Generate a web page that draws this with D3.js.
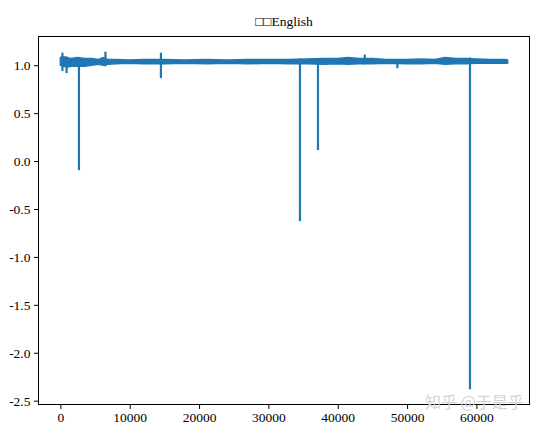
<!DOCTYPE html>
<html>
<head>
<meta charset="utf-8">
<script src="https://cdn.jsdelivr.net/npm/d3@7"></script>
<style>
  body { margin: 0; background: #fff; }
  svg text { font-family: 'Liberation Serif', 'Times New Roman', serif; }
</style>
</head>
<body>
<script>
'use strict';

// noise band: sample x, upper and lower edge
const bandX  = [0, 400, 900, 1500, 2500, 3500, 4500, 5500, 6200, 6800, 8000, 10000, 12000, 14000, 15000, 18000, 21000, 24000, 27000, 30000, 33000, 35500, 38000, 40000, 41500, 43000, 45000, 47000, 50000, 52000, 54000, 55500, 57000, 58500, 60000, 62000, 64000, 64500];
const bandHi = [1.08, 1.09, 1.08, 1.07, 1.08, 1.07, 1.07, 1.06, 1.08, 1.06, 1.06, 1.055, 1.06, 1.06, 1.06, 1.055, 1.06, 1.055, 1.06, 1.06, 1.06, 1.065, 1.07, 1.07, 1.08, 1.07, 1.07, 1.06, 1.06, 1.065, 1.06, 1.08, 1.07, 1.07, 1.065, 1.06, 1.06, 1.055];
const bandLo = [1.00, 0.99, 0.98, 0.99, 0.99, 0.99, 1.00, 1.01, 1.00, 1.01, 1.015, 1.02, 1.015, 1.015, 1.015, 1.02, 1.015, 1.02, 1.015, 1.02, 1.015, 1.015, 1.01, 1.015, 1.01, 1.015, 1.015, 1.02, 1.015, 1.015, 1.02, 1.01, 1.015, 1.015, 1.02, 1.02, 1.02, 1.02];

// single-sample spikes: position, lowest and highest value
const spikeX  = [300, 900, 2680, 6500, 14500, 34550, 37150, 43900, 48600, 59070];
const spikeLo = [0.95, 0.93, -0.083, 1.0, 0.877, -0.615, 0.126, 1.02, 0.98, -2.368];
const spikeHi = [1.12, 1.08, 1.06, 1.13, 1.12, 1.06, 1.06, 1.10, 1.05, 1.07];

const xTicks = [0, 10000, 20000, 30000, 40000, 50000, 60000];
const yTicks = [1.0, 0.5, 0.0, -0.5, -1.0, -1.5, -2.0, -2.5];

const W = 540, H = 433;
const M = { left: 38, top: 36, right: 10, bottom: 28 };
const COLOR = '#1f77b4';

let svg = d3.select('body').append('svg').attr('width', W).attr('height', H);

let xScale = d3.scaleLinear().domain([-3225, 67725]).range([M.left, W - M.right]);
let yScale = d3.scaleLinear().domain([-2.545, 1.305]).range([H - M.bottom, M.top]);

let band = bandX.map((x, i) => ({ x: x, hi: bandHi[i], lo: bandLo[i] }));

let area = d3.area()
	.x((d) => xScale(d.x))
	.y0((d) => yScale(d.lo))
	.y1((d) => yScale(d.hi));

svg.append('path')
	.datum(band)
	.attr('d', area)
	.attr('fill', COLOR)
	.attr('stroke', COLOR)
	.attr('stroke-width', 1.5)
	.attr('stroke-linejoin', 'round');

let line = d3.line().x((d) => xScale(d[0])).y((d) => yScale(d[1]));

svg.selectAll('path.spike')
	.data(spikeX.map((x, i) => [[x, spikeHi[i]], [x, spikeLo[i]]]))
	.enter()
	.append('path')
	.attr('class', 'spike')
	.attr('d', line)
	.attr('fill', 'none')
	.attr('stroke', COLOR)
	.attr('stroke-width', 2.2)
	.attr('stroke-linecap', 'square');

// frame
svg.append('rect')
	.attr('x', M.left + 0.5).attr('y', M.top + 0.5)
	.attr('width', W - M.left - M.right - 1).attr('height', H - M.top - M.bottom - 1)
	.attr('fill', 'none').attr('stroke', '#000').attr('stroke-width', 1);

let xAxis = d3.axisBottom(xScale).tickValues(xTicks).tickFormat(d3.format('d')).tickSize(4).tickPadding(3.5);
let yAxis = d3.axisLeft(yScale).tickValues(yTicks).tickFormat(d3.format('.1f')).tickSize(4).tickPadding(3.5);

let gx = svg.append('g').attr('transform', 'translate(0,' + (H - M.bottom) + ')').call(xAxis);
let gy = svg.append('g').attr('transform', 'translate(' + M.left + ',0)').call(yAxis);
[gx, gy].forEach((g) => {
	g.select('.domain').remove();
	g.selectAll('.tick line').attr('stroke', '#000');
	g.selectAll('.tick text').attr('fill', '#000').style('font-size', '13.5px');
});
gy.selectAll('.tick text').text((d) => d3.format('.1f')(d).replace('−', '-'));

svg.append('text')
	.attr('x', (M.left + W - M.right) / 2).attr('y', 26)
	.attr('text-anchor', 'middle')
	.style('font-size', '13.5px')
	.text('\u25a1\u25a1English');

// watermark
svg.append('text')
	.attr('x', 425).attr('y', 408)
	.style('font-family', "'Noto Sans CJK SC', sans-serif")
	.style('font-size', '16px')
	.attr('fill', '#d4d4d4')
	.text('知乎 @于是乎');
</script>
</body>
</html>
